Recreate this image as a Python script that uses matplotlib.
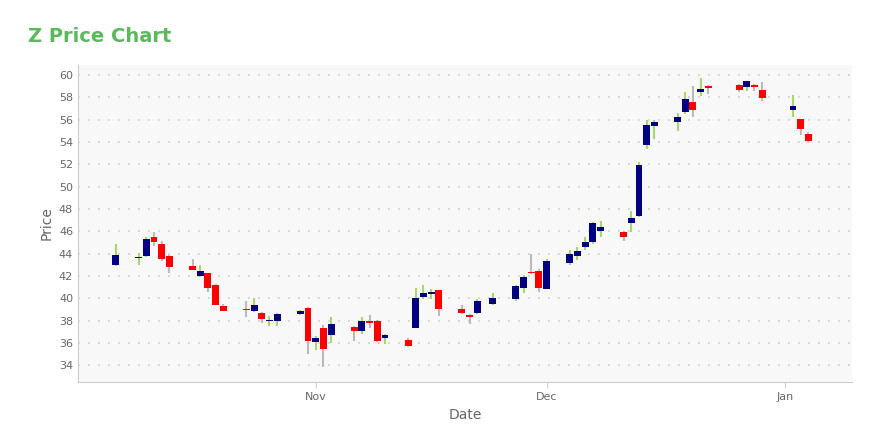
import matplotlib
matplotlib.use("Agg")
import matplotlib.pyplot as plt
import matplotlib.dates as mdates
import pandas as pd

dates = ["2023-10-06",
         "2023-10-09", "2023-10-10", "2023-10-11", "2023-10-12", "2023-10-13",
         "2023-10-16", "2023-10-17", "2023-10-18", "2023-10-19", "2023-10-20",
         "2023-10-23", "2023-10-24", "2023-10-25", "2023-10-26", "2023-10-27",
         "2023-10-30", "2023-10-31", "2023-11-01", "2023-11-02", "2023-11-03",
         "2023-11-06", "2023-11-07", "2023-11-08", "2023-11-09", "2023-11-10",
         "2023-11-13", "2023-11-14", "2023-11-15", "2023-11-16", "2023-11-17",
         "2023-11-20", "2023-11-21", "2023-11-22", "2023-11-24",
         "2023-11-27", "2023-11-28", "2023-11-29", "2023-11-30", "2023-12-01",
         "2023-12-04", "2023-12-05", "2023-12-06", "2023-12-07", "2023-12-08",
         "2023-12-11", "2023-12-12", "2023-12-13", "2023-12-14", "2023-12-15",
         "2023-12-18", "2023-12-19", "2023-12-20", "2023-12-21", "2023-12-22",
         "2023-12-26", "2023-12-27", "2023-12-28", "2023-12-29",
         "2024-01-02", "2024-01-03", "2024-01-04"]

opens = [43.0, 43.6, 43.8, 45.45, 44.9, 43.8, 42.9, 42.0, 42.25, 41.2, 39.3,
         39.0, 38.9, 38.7, 37.97, 38.0, 38.6, 39.1, 36.1, 37.3, 36.7,
         37.4, 37.1, 37.97, 38.0, 36.45, 36.3, 37.35, 40.1, 40.4, 40.7,
         39.0, 38.5, 38.7, 39.5, 39.95, 40.95, 42.3, 42.45, 40.85,
         43.2, 43.8, 44.6, 45.05, 46.0, 45.9, 46.75, 47.4, 53.75, 55.4,
         55.8, 56.7, 57.6, 58.5, 59.0, 59.1, 58.95, 59.1, 58.65, 56.9, 56.05, 54.7]
highs = [44.9, 44.1, 45.5, 45.9, 45.1, 43.9, 43.5, 43.0, 42.3, 41.3, 39.5,
         39.75, 40.0, 38.8, 38.4, 38.7, 38.95, 39.2, 36.6, 37.6, 38.3,
         37.5, 38.3, 38.5, 38.05, 36.8, 36.4, 40.9, 41.2, 40.8, 40.75,
         39.4, 38.6, 39.9, 40.5, 41.2, 42.1, 44.0, 42.6, 43.5,
         44.3, 44.6, 45.5, 46.8, 46.9, 46.0, 47.8, 52.2, 56.0, 56.0,
         56.6, 58.5, 59.0, 59.7, 59.1, 59.2, 59.5, 59.2, 59.4, 58.2, 56.1, 54.9]
lows = [42.9, 43.0, 43.7, 44.7, 43.3, 42.3, 42.5, 41.9, 40.6, 39.4, 38.9,
        38.3, 38.8, 37.8, 37.5, 37.5, 38.5, 35.0, 35.4, 33.85, 36.0,
        36.2, 36.8, 37.3, 36.1, 35.9, 35.6, 37.3, 39.9, 39.9, 38.4,
        38.6, 37.7, 38.6, 39.4, 39.8, 40.5, 42.2, 40.6, 40.8,
        43.0, 43.4, 44.3, 44.9, 45.5, 45.1, 45.9, 47.3, 53.4, 54.3,
        55.0, 56.5, 56.2, 58.1, 58.3, 58.5, 58.6, 58.6, 57.7, 56.2, 54.6, 54.0]
closes = [43.9, 43.65, 45.3, 45.05, 43.5, 42.8, 42.5, 42.4, 40.9, 39.4, 38.9,
          38.95, 39.4, 38.1, 38.03, 38.6, 38.9, 36.2, 36.45, 35.45, 37.7,
          37.1, 37.95, 37.8, 36.2, 36.7, 35.7, 40.0, 40.5, 40.6, 39.05,
          38.65, 38.35, 39.75, 40.0, 41.1, 41.9, 42.25, 40.9, 43.3,
          44.0, 44.2, 45.0, 46.7, 46.4, 45.5, 47.2, 51.9, 55.5, 55.8,
          56.2, 57.85, 56.9, 58.75, 58.8, 58.7, 59.45, 58.9, 57.9, 57.2, 55.2, 54.1]

yticks = list(range(34, 61, 2))
xtick_dates = ["2023-11-01", "2023-12-01", "2024-01-01"]
xtick_labels = ["Nov", "Dec", "Jan"]

df = pd.DataFrame({"date": pd.to_datetime(dates), "open": opens, "high": highs,
                   "low": lows, "close": closes})

fig = plt.figure(figsize=(8.8, 4.4), dpi=100)
fig.patch.set_facecolor("white")
ax = fig.add_axes([78 / 880, 58 / 440, 774 / 880, 317 / 440])
ax.set_facecolor("#f8f8f8")

for _, r in df.iterrows():
    x = mdates.date2num(r["date"])
    up = r["close"] >= r["open"]
    body_col = "#000080" if up else "#ff0000"
    wick_col = "#a6d96a" if up else "#bbbbbb"
    ax.vlines(x, r["low"], r["high"], color=wick_col, linewidth=1.5, zorder=2)
    lo = min(r["open"], r["close"])
    h = max(abs(r["close"] - r["open"]), 0.12)
    ax.bar(x, h, bottom=lo, width=0.9, color=body_col, zorder=3)

ax.set_xlim(mdates.date2num(pd.Timestamp("2023-10-01 03:00")),
            mdates.date2num(pd.Timestamp("2024-01-09 16:00")))
ax.set_ylim(32.5, 60.9)
ax.set_yticks(yticks)
ax.set_xticks([mdates.date2num(pd.Timestamp(d)) for d in xtick_dates])
ax.set_xticklabels(xtick_labels)
ax.grid(True, axis="y", color="#cccccc", linestyle=(0, (1, 5)), linewidth=1.2)
ax.set_axisbelow(True)
for s in ["top", "right"]:
    ax.spines[s].set_visible(False)
for s in ["left", "bottom"]:
    ax.spines[s].set_color("#cccccc")
ax.tick_params(colors="#666666", labelsize=8, length=4)
ax.tick_params(axis="x", colors="#cccccc", labelcolor="#666666")
ax.tick_params(axis="y", length=0)
ax.set_xlabel("Date", color="#666666", fontsize=10)
ax.set_ylabel("Price", color="#666666", fontsize=10)

fig.text(28 / 880, 1 - 37 / 440, "Z Price Chart", color="#5cb85c", fontsize=14,
         fontweight="bold", va="center", ha="left")

fig.savefig("out.png", dpi=100)
